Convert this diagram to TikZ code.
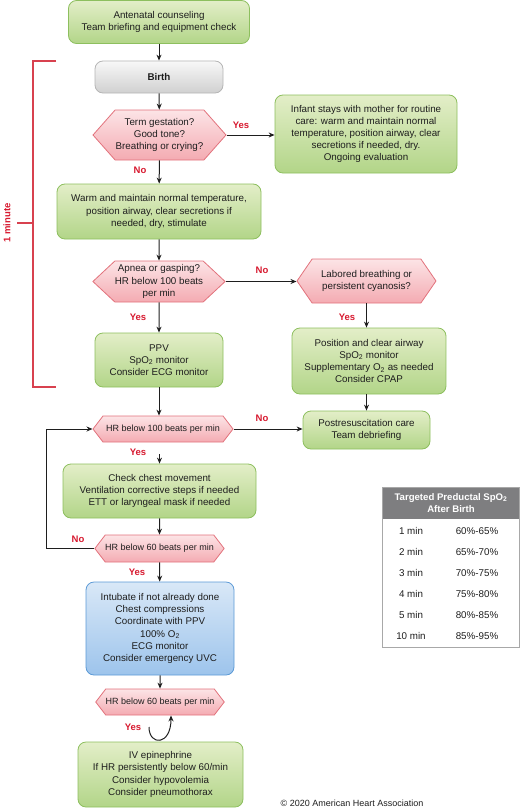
\documentclass[tikz,border=0pt]{standalone}
\usepackage{fontspec}
\setmainfont{Liberation Sans}
\usetikzlibrary{shapes.symbols,arrows.meta,calc}
\definecolor{grnB}{HTML}{8DBF5E}
\definecolor{grnT}{HTML}{E3EEC8}
\definecolor{grnBot}{HTML}{B2D588}
\definecolor{pinkB}{HTML}{E2727C}
\definecolor{pinkT}{HTML}{FCE4E6}
\definecolor{pinkBot}{HTML}{F4ABB2}
\definecolor{redT}{HTML}{D7192F}
\definecolor{bluB}{HTML}{5C9AD6}
\definecolor{bluT}{HTML}{D9E8F7}
\definecolor{bluBot}{HTML}{9DC4EC}
\definecolor{grayB}{HTML}{B5B5B5}
\definecolor{grayT}{HTML}{F8F8F8}
\definecolor{grayBot}{HTML}{D0D0D0}
\definecolor{brk}{HTML}{D8414F}
\definecolor{hdr}{HTML}{7E7E80}
\definecolor{tblB}{HTML}{A8A8A8}
\definecolor{ink}{HTML}{1E1E1E}
\newcommand\bodyfont{\fontsize{9.8}{12.2}\selectfont}
\newcommand\smallbody{\fontsize{9}{11}\selectfont}
\tikzset{
  box/.style={draw=grnB, line width=0.8pt, rounded corners=8pt, top color=grnT, bottom color=grnBot, align=center, inner sep=0pt, font=\bodyfont, text=ink},
  bluebox/.style={box, draw=bluB, top color=bluT, bottom color=bluBot},
  graybox/.style={box, draw=grayB, top color=grayT, bottom color=grayBot},
  hexa/.style={signal, signal to=west and east, draw=pinkB, line width=0.8pt, top color=pinkT, bottom color=pinkBot, align=center, inner sep=0pt, font=\bodyfont, text=ink},
  arr/.style={draw=ink, line width=1pt, -{Stealth[length=6pt,width=5pt]}},
  lab/.style={text=redT, font=\bfseries\fontsize{9.5}{11}\selectfont},
  cell/.style={font=\bodyfont, text=ink}
}
\begin{document}
\begin{tikzpicture}[x=1pt,y=-1pt]
\useasboundingbox (0,0) rectangle (520,808);
% nodes
\node[box, minimum width=181pt, minimum height=43pt] (n1) at (159,22) {Antenatal counseling\\Team briefing and equipment check};
\node[graybox, minimum width=128pt, minimum height=32pt, font=\bodyfont\bfseries] (birth) at (159,77) {Birth};
\node[hexa, minimum width=133pt, minimum height=50pt, signal pointer angle=97] (h1) at (159.5,135) {Term gestation?\\Good tone?\\Breathing or crying?};
\node[box, minimum width=182pt, minimum height=78pt] (inf) at (366,134) {Infant stays with mother for routine\\care: warm and maintain normal\\temperature, position airway, clear\\secretions if needed, dry.\\Ongoing evaluation};
\node[box, minimum width=204pt, minimum height=55pt] (warm) at (159,211.5) {Warm and maintain normal temperature,\\position airway, clear secretions if\\needed, dry, stimulate};
\node[hexa, minimum width=132pt, minimum height=41pt, signal pointer angle=86] (h2) at (159,281.5) {Apnea or gasping?\\HR below 100 beats\\per min};
\node[hexa, minimum width=139pt, minimum height=44pt, signal pointer angle=111] (h3) at (366.5,281) {Labored breathing or\\persistent cyanosis?};
\node[box, minimum width=128pt, minimum height=54pt] (ppv) at (159,360) {PPV\\SpO\textsubscript{2} monitor\\Consider ECG monitor};
\node[box, minimum width=154pt, minimum height=66pt] (pos) at (369,361) {Position and clear airway\\SpO\textsubscript{2} monitor\\Supplementary O\textsubscript{2} as needed\\Consider CPAP};
\node[hexa, minimum width=140pt, minimum height=26pt, signal pointer angle=105, font=\smallbody] (h4) at (163,429) {HR below 100 beats per min};
\node[box, minimum width=127pt, minimum height=38pt] (post) at (366.5,430) {Postresuscitation care\\Team debriefing};
\node[box, minimum width=193pt, minimum height=54pt] (chk) at (159.5,491) {Check chest movement\\Ventilation corrective steps if needed\\ETT or laryngeal mask if needed};
\node[hexa, minimum width=127pt, minimum height=27pt, signal pointer angle=105, font=\smallbody] (h5) at (159.5,548.5) {HR below 60 beats per min};
\node[bluebox, minimum width=148pt, minimum height=93pt] (blue) at (160,628.5) {Intubate if not already done\\Chest compressions\\Coordinate with PPV\\100\% O\textsubscript{2}\\ECG monitor\\Consider emergency UVC};
\node[hexa, minimum width=128pt, minimum height=26pt, signal pointer angle=105, font=\smallbody] (h6) at (160,702) {HR below 60 beats per min};
\node[box, minimum width=165pt, minimum height=65pt] (iv) at (160.5,774.5) {IV epinephrine\\If HR persistently below 60/min\\Consider hypovolemia\\Consider pneumothorax};
% connectors
\draw[arr] (n1) -- (birth);
\draw[arr] (birth) -- (h1);
\draw[arr] (h1.east) -- (h1.east -| inf.west);
\draw[arr] (h1) -- (warm);
\draw[arr] (warm) -- (h2);
\draw[arr] (h2.east) -- (h2.east -| h3.west);
\draw[arr] (h2) -- (ppv);
\draw[arr] (h3.south) -- (h3.south |- pos.north);
\draw[arr] (h3.south |- pos.south) -- (h3.south |- post.north);
\draw[arr] (ppv.south) -- (ppv.south |- h4.north);
\draw[arr] (h4.east) -- (post.west |- h4.east);
\draw[arr, shorten <=12pt] (chk.north |- h4.south) -- (chk.north);
\draw[arr] (chk) -- (h5);
\coordinate (lp) at (46,548.5);
\draw[arr] (h5.west) -- (lp) |- (h4.west);
\draw[arr] (h5) -- (blue);
\draw[arr] (blue) -- (h6);
\coordinate (cs) at (149,727);
\draw[arr] (cs) .. controls (149,746) and (171,746) .. ($(h6.south)+(11,0)$);
% labels
\node[lab] (y1) at (241,125) {Yes};
\node[lab] (no1) at (140,170) {No};
\node[lab] (no2) at (262,270) {No};
\node[lab] (y2) at (138,317) {Yes};
\node[lab] (y3) at (347,317) {Yes};
\node[lab] (no3) at (262,418) {No};
\node[lab] (y4) at (138,452) {Yes};
\node[lab] (no4) at (78,539) {No};
\node[lab] (y5) at (137,572) {Yes};
\node[lab] (y6) at (133,727) {Yes};
% one-minute bracket
\draw[brk, line width=1.3pt] (56,61) -- (33,61) -- (33,387) -- (56,387);
\draw[brk, line width=1.3pt] (17,223) -- (33,223);
\node[lab, rotate=90] (onemin) at (7,223) {1 minute};
% table
\fill[white] (382,487) rectangle (519,647);
\fill[hdr] (382,487) rectangle (519,519);
\draw[tblB, line width=1pt] (382,487) rectangle (519,647);
\node[align=center, text=white, font=\bfseries\fontsize{9.6}{12}\selectfont] (th) at (451,503) {Targeted Preductal SpO\textsubscript{2}\\After Birth};
\node[cell] (r1a) at (411,531) {1 min};   \node[cell] (r1b) at (477,531) {60\%-65\%};
\node[cell] (r2a) at (411,552) {2 min};   \node[cell] (r2b) at (477,552) {65\%-70\%};
\node[cell] (r3a) at (411,573) {3 min};   \node[cell] (r3b) at (477,573) {70\%-75\%};
\node[cell] (r4a) at (411,594) {4 min};   \node[cell] (r4b) at (477,594) {75\%-80\%};
\node[cell] (r5a) at (411,615) {5 min};   \node[cell] (r5b) at (477,615) {80\%-85\%};
\node[cell] (r6a) at (411,636) {10 min};  \node[cell] (r6b) at (477,636) {85\%-95\%};
\node[font=\fontsize{9}{11}\selectfont, text=ink] (copy) at (352,803) {© 2020 American Heart Association};
\end{tikzpicture}
\end{document}
